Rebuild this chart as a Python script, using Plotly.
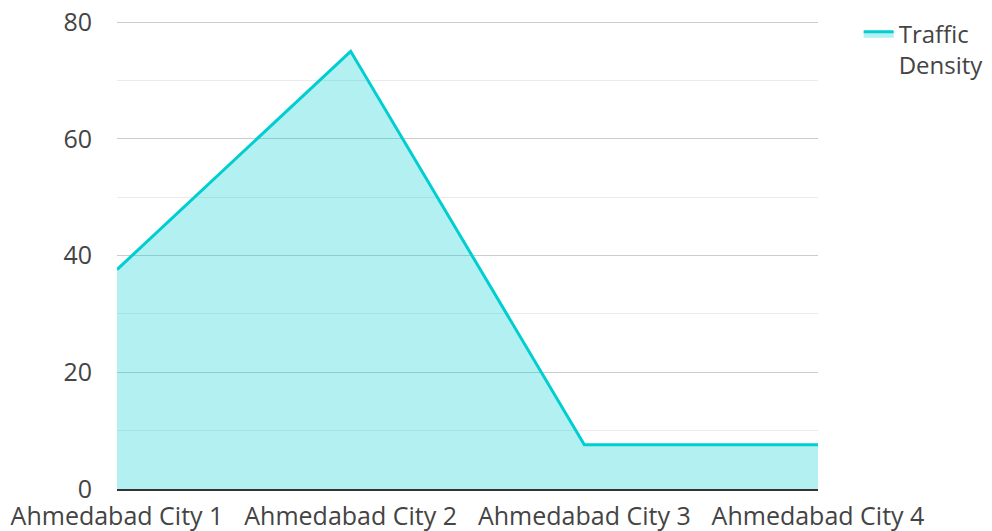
import plotly.graph_objects as go

categories = ["Ahmedabad City 1", "Ahmedabad City 2", "Ahmedabad City 3", "Ahmedabad City 4"]
traffic_density = [37.6, 75, 7.6, 7.6]
series_name = "Traffic<br>Density"
y_ticks = [0, 20, 40, 60, 80]

fig = go.Figure()
fig.add_trace(go.Scatter(
    x=categories, y=traffic_density, name=series_name,
    mode="lines", fill="tozeroy",
    line=dict(color="#00CED1", width=3),
    fillcolor="rgba(0,206,209,0.3)",
))

fig.update_layout(
    width=992, height=531,
    margin=dict(l=109, r=182, t=13, b=50, autoexpand=False),
    paper_bgcolor="white", plot_bgcolor="white",
    font=dict(family="Open Sans", size=25, color="#444"),
    showlegend=True,
    legend=dict(x=1.058, xanchor="left", xref="paper",
                y=1.02, yanchor="top", yref="paper",
                valign="top",
                font=dict(size=24, color="#444")),
    xaxis=dict(range=[0, 3], showgrid=False, showline=True, linecolor="#333",
               linewidth=2, ticks="", zeroline=False, ticklabelstandoff=4,
               automargin=False),
    yaxis=dict(range=[0, 80.2], tickvals=y_ticks, ticktext=[str(v) for v in y_ticks],
               showgrid=True, gridcolor="#cccccc",
               gridwidth=1, zeroline=False, showline=False, ticks="",
               ticklabelstandoff=24, automargin=False, ticklabeloverflow="allow",
               minor=dict(dtick=10, tick0=0, showgrid=True, gridcolor="#ebebeb", gridwidth=1)),
)

fig.write_html("out.html")
